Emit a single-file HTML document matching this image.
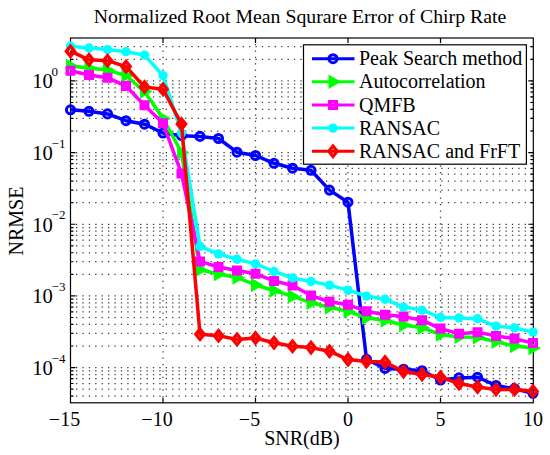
<!DOCTYPE html><html><head><meta charset="utf-8"><style>html,body{margin:0;padding:0;background:#fff;width:550px;height:455px;overflow:hidden}svg{display:block}text{font-family:"Liberation Serif",serif;fill:#000}</style></head><body>
<svg width="550" height="455" viewBox="0 0 550 455">
<path d="M70.5 396.12H533.3M70.5 389.18H533.3M70.5 383.50H533.3M70.5 378.70H533.3M70.5 374.55H533.3M70.5 370.88H533.3M70.5 367.60H533.3M70.5 346.02H533.3M70.5 333.40H533.3M70.5 324.45H533.3M70.5 317.50H533.3M70.5 311.83H533.3M70.5 307.03H533.3M70.5 302.87H533.3M70.5 299.20H533.3M70.5 295.92H533.3M70.5 274.35H533.3M70.5 261.73H533.3M70.5 252.77H533.3M70.5 245.83H533.3M70.5 240.15H533.3M70.5 235.35H533.3M70.5 231.20H533.3M70.5 227.53H533.3M70.5 224.25H533.3M70.5 202.67H533.3M70.5 190.05H533.3M70.5 181.10H533.3M70.5 174.15H533.3M70.5 168.48H533.3M70.5 163.68H533.3M70.5 159.52H533.3M70.5 155.85H533.3M70.5 152.57H533.3M70.5 131.00H533.3M70.5 118.38H533.3M70.5 109.42H533.3M70.5 102.48H533.3M70.5 96.80H533.3M70.5 92.00H533.3M70.5 87.85H533.3M70.5 84.18H533.3M70.5 80.90H533.3M70.5 59.32H533.3M70.5 46.70H533.3" stroke="#383838" stroke-width="1.25" stroke-dasharray="1.25 5.16" stroke-dashoffset="0.9" fill="none"/>
<path d="M163.0 38.0V402.8M255.5 38.0V402.8M348.0 38.0V402.8M440.5 38.0V402.8" stroke="#383838" stroke-width="1.25" stroke-dasharray="1.25 5.15" stroke-dashoffset="0.4" fill="none"/>
<path d="M163.0 402.8V397.8M163.0 38.0V43.0M255.5 402.8V397.8M255.5 38.0V43.0M348.0 402.8V397.8M348.0 38.0V43.0M440.5 402.8V397.8M440.5 38.0V43.0M70.5 396.12H73.5M533.3 396.12H530.3M70.5 389.18H73.5M533.3 389.18H530.3M70.5 383.50H73.5M533.3 383.50H530.3M70.5 378.70H73.5M533.3 378.70H530.3M70.5 374.55H73.5M533.3 374.55H530.3M70.5 370.88H73.5M533.3 370.88H530.3M70.5 367.60H75.5M533.3 367.60H528.3M70.5 346.02H73.5M533.3 346.02H530.3M70.5 333.40H73.5M533.3 333.40H530.3M70.5 324.45H73.5M533.3 324.45H530.3M70.5 317.50H73.5M533.3 317.50H530.3M70.5 311.83H73.5M533.3 311.83H530.3M70.5 307.03H73.5M533.3 307.03H530.3M70.5 302.87H73.5M533.3 302.87H530.3M70.5 299.20H73.5M533.3 299.20H530.3M70.5 295.92H75.5M533.3 295.92H528.3M70.5 274.35H73.5M533.3 274.35H530.3M70.5 261.73H73.5M533.3 261.73H530.3M70.5 252.77H73.5M533.3 252.77H530.3M70.5 245.83H73.5M533.3 245.83H530.3M70.5 240.15H73.5M533.3 240.15H530.3M70.5 235.35H73.5M533.3 235.35H530.3M70.5 231.20H73.5M533.3 231.20H530.3M70.5 227.53H73.5M533.3 227.53H530.3M70.5 224.25H75.5M533.3 224.25H528.3M70.5 202.67H73.5M533.3 202.67H530.3M70.5 190.05H73.5M533.3 190.05H530.3M70.5 181.10H73.5M533.3 181.10H530.3M70.5 174.15H73.5M533.3 174.15H530.3M70.5 168.48H73.5M533.3 168.48H530.3M70.5 163.68H73.5M533.3 163.68H530.3M70.5 159.52H73.5M533.3 159.52H530.3M70.5 155.85H73.5M533.3 155.85H530.3M70.5 152.57H75.5M533.3 152.57H528.3M70.5 131.00H73.5M533.3 131.00H530.3M70.5 118.38H73.5M533.3 118.38H530.3M70.5 109.42H73.5M533.3 109.42H530.3M70.5 102.48H73.5M533.3 102.48H530.3M70.5 96.80H73.5M533.3 96.80H530.3M70.5 92.00H73.5M533.3 92.00H530.3M70.5 87.85H73.5M533.3 87.85H530.3M70.5 84.18H73.5M533.3 84.18H530.3M70.5 80.90H75.5M533.3 80.90H528.3M70.5 59.32H73.5M533.3 59.32H530.3M70.5 46.70H73.5M533.3 46.70H530.3" stroke="#000" stroke-width="1.2" fill="none"/>
<rect x="70.5" y="38.0" width="462.8" height="364.8" fill="none" stroke="#000" stroke-width="1.2"/>
<polyline points="70.5,109.8 89.0,111.3 107.5,113.9 126.0,120.7 144.5,124.2 163.0,133.0 181.5,135.7 200.0,136.4 218.5,138.5 237.0,152.2 255.5,155.5 274.0,163.3 292.5,168.2 311.0,170.3 329.5,190.1 348.0,202.2 366.5,359.3 385.0,368.4 403.5,369.2 422.0,370.7 440.5,380.0 459.0,377.9 477.5,377.2 496.0,385.5 514.5,388.7 533.0,393.3" fill="none" stroke="#0000ff" stroke-width="3.5" stroke-linejoin="round"/>
<circle cx="70.5" cy="109.8" r="4.05" fill="none" stroke="#0000ff" stroke-width="3"/><circle cx="89.0" cy="111.3" r="4.05" fill="none" stroke="#0000ff" stroke-width="3"/><circle cx="107.5" cy="113.9" r="4.05" fill="none" stroke="#0000ff" stroke-width="3"/><circle cx="126.0" cy="120.7" r="4.05" fill="none" stroke="#0000ff" stroke-width="3"/><circle cx="144.5" cy="124.2" r="4.05" fill="none" stroke="#0000ff" stroke-width="3"/><circle cx="163.0" cy="133.0" r="4.05" fill="none" stroke="#0000ff" stroke-width="3"/><circle cx="181.5" cy="135.7" r="4.05" fill="none" stroke="#0000ff" stroke-width="3"/><circle cx="200.0" cy="136.4" r="4.05" fill="none" stroke="#0000ff" stroke-width="3"/><circle cx="218.5" cy="138.5" r="4.05" fill="none" stroke="#0000ff" stroke-width="3"/><circle cx="237.0" cy="152.2" r="4.05" fill="none" stroke="#0000ff" stroke-width="3"/><circle cx="255.5" cy="155.5" r="4.05" fill="none" stroke="#0000ff" stroke-width="3"/><circle cx="274.0" cy="163.3" r="4.05" fill="none" stroke="#0000ff" stroke-width="3"/><circle cx="292.5" cy="168.2" r="4.05" fill="none" stroke="#0000ff" stroke-width="3"/><circle cx="311.0" cy="170.3" r="4.05" fill="none" stroke="#0000ff" stroke-width="3"/><circle cx="329.5" cy="190.1" r="4.05" fill="none" stroke="#0000ff" stroke-width="3"/><circle cx="348.0" cy="202.2" r="4.05" fill="none" stroke="#0000ff" stroke-width="3"/><circle cx="366.5" cy="359.3" r="4.05" fill="none" stroke="#0000ff" stroke-width="3"/><circle cx="385.0" cy="368.4" r="4.05" fill="none" stroke="#0000ff" stroke-width="3"/><circle cx="403.5" cy="369.2" r="4.05" fill="none" stroke="#0000ff" stroke-width="3"/><circle cx="422.0" cy="370.7" r="4.05" fill="none" stroke="#0000ff" stroke-width="3"/><circle cx="440.5" cy="380.0" r="4.05" fill="none" stroke="#0000ff" stroke-width="3"/><circle cx="459.0" cy="377.9" r="4.05" fill="none" stroke="#0000ff" stroke-width="3"/><circle cx="477.5" cy="377.2" r="4.05" fill="none" stroke="#0000ff" stroke-width="3"/><circle cx="496.0" cy="385.5" r="4.05" fill="none" stroke="#0000ff" stroke-width="3"/><circle cx="514.5" cy="388.7" r="4.05" fill="none" stroke="#0000ff" stroke-width="3"/><circle cx="533.0" cy="393.3" r="4.05" fill="none" stroke="#0000ff" stroke-width="3"/>
<polyline points="70.5,66.0 89.0,68.0 107.5,70.1 126.0,75.6 144.5,91.6 163.0,118.5 181.5,152.5 200.0,269.8 218.5,274.0 237.0,277.5 255.5,285.0 274.0,290.5 292.5,296.4 311.0,302.7 329.5,307.3 348.0,311.4 366.5,317.7 385.0,320.5 403.5,325.0 422.0,327.7 440.5,334.5 459.0,336.9 477.5,337.3 496.0,341.8 514.5,346.0 533.0,348.0" fill="none" stroke="#00ff00" stroke-width="3.5" stroke-linejoin="round"/>
<polygon points="66.0,58.8 78.5,66.0 66.0,73.2" fill="#00ff00"/><polygon points="84.5,60.8 97.0,68.0 84.5,75.2" fill="#00ff00"/><polygon points="103.0,62.9 115.5,70.1 103.0,77.3" fill="#00ff00"/><polygon points="121.5,68.4 134.0,75.6 121.5,82.8" fill="#00ff00"/><polygon points="140.0,84.4 152.5,91.6 140.0,98.8" fill="#00ff00"/><polygon points="158.5,111.3 171.0,118.5 158.5,125.7" fill="#00ff00"/><polygon points="177.0,145.3 189.5,152.5 177.0,159.7" fill="#00ff00"/><polygon points="195.5,262.6 208.0,269.8 195.5,277.0" fill="#00ff00"/><polygon points="214.0,266.8 226.5,274.0 214.0,281.2" fill="#00ff00"/><polygon points="232.5,270.3 245.0,277.5 232.5,284.7" fill="#00ff00"/><polygon points="251.0,277.8 263.5,285.0 251.0,292.2" fill="#00ff00"/><polygon points="269.5,283.3 282.0,290.5 269.5,297.7" fill="#00ff00"/><polygon points="288.0,289.2 300.5,296.4 288.0,303.6" fill="#00ff00"/><polygon points="306.5,295.5 319.0,302.7 306.5,309.9" fill="#00ff00"/><polygon points="325.0,300.1 337.5,307.3 325.0,314.5" fill="#00ff00"/><polygon points="343.5,304.2 356.0,311.4 343.5,318.6" fill="#00ff00"/><polygon points="362.0,310.5 374.5,317.7 362.0,324.9" fill="#00ff00"/><polygon points="380.5,313.3 393.0,320.5 380.5,327.7" fill="#00ff00"/><polygon points="399.0,317.8 411.5,325.0 399.0,332.2" fill="#00ff00"/><polygon points="417.5,320.5 430.0,327.7 417.5,334.9" fill="#00ff00"/><polygon points="436.0,327.3 448.5,334.5 436.0,341.7" fill="#00ff00"/><polygon points="454.5,329.7 467.0,336.9 454.5,344.1" fill="#00ff00"/><polygon points="473.0,330.1 485.5,337.3 473.0,344.5" fill="#00ff00"/><polygon points="491.5,334.6 504.0,341.8 491.5,349.0" fill="#00ff00"/><polygon points="510.0,338.8 522.5,346.0 510.0,353.2" fill="#00ff00"/><polygon points="528.5,340.8 541.0,348.0 528.5,355.2" fill="#00ff00"/>
<polyline points="70.5,70.7 89.0,75.0 107.5,77.7 126.0,86.1 144.5,105.2 163.0,123.2 181.5,173.6 200.0,261.4 218.5,267.0 237.0,270.5 255.5,273.8 274.0,280.9 292.5,285.5 311.0,295.5 329.5,301.8 348.0,304.8 366.5,311.2 385.0,314.8 403.5,316.6 422.0,320.2 440.5,328.6 459.0,333.7 477.5,332.2 496.0,335.9 514.5,338.6 533.0,343.1" fill="none" stroke="#ff00ff" stroke-width="3.5" stroke-linejoin="round"/>
<path d="M65.5 65.7h10v10h-10zM69.0 69.1v3.2h3v-3.2z" fill="#ff00ff" fill-rule="evenodd"/><path d="M84.0 70.0h10v10h-10zM87.5 73.4v3.2h3v-3.2z" fill="#ff00ff" fill-rule="evenodd"/><path d="M102.5 72.7h10v10h-10zM106.0 76.1v3.2h3v-3.2z" fill="#ff00ff" fill-rule="evenodd"/><path d="M121.0 81.1h10v10h-10zM124.5 84.5v3.2h3v-3.2z" fill="#ff00ff" fill-rule="evenodd"/><path d="M139.5 100.2h10v10h-10zM143.0 103.6v3.2h3v-3.2z" fill="#ff00ff" fill-rule="evenodd"/><path d="M158.0 118.2h10v10h-10zM161.5 121.6v3.2h3v-3.2z" fill="#ff00ff" fill-rule="evenodd"/><path d="M176.5 168.6h10v10h-10zM180.0 172.0v3.2h3v-3.2z" fill="#ff00ff" fill-rule="evenodd"/><path d="M195.0 256.4h10v10h-10zM198.5 259.8v3.2h3v-3.2z" fill="#ff00ff" fill-rule="evenodd"/><path d="M213.5 262.0h10v10h-10zM217.0 265.4v3.2h3v-3.2z" fill="#ff00ff" fill-rule="evenodd"/><path d="M232.0 265.5h10v10h-10zM235.5 268.9v3.2h3v-3.2z" fill="#ff00ff" fill-rule="evenodd"/><path d="M250.5 268.8h10v10h-10zM254.0 272.2v3.2h3v-3.2z" fill="#ff00ff" fill-rule="evenodd"/><path d="M269.0 275.9h10v10h-10zM272.5 279.3v3.2h3v-3.2z" fill="#ff00ff" fill-rule="evenodd"/><path d="M287.5 280.5h10v10h-10zM291.0 283.9v3.2h3v-3.2z" fill="#ff00ff" fill-rule="evenodd"/><path d="M306.0 290.5h10v10h-10zM309.5 293.9v3.2h3v-3.2z" fill="#ff00ff" fill-rule="evenodd"/><path d="M324.5 296.8h10v10h-10zM328.0 300.2v3.2h3v-3.2z" fill="#ff00ff" fill-rule="evenodd"/><path d="M343.0 299.8h10v10h-10zM346.5 303.2v3.2h3v-3.2z" fill="#ff00ff" fill-rule="evenodd"/><path d="M361.5 306.2h10v10h-10zM365.0 309.6v3.2h3v-3.2z" fill="#ff00ff" fill-rule="evenodd"/><path d="M380.0 309.8h10v10h-10zM383.5 313.2v3.2h3v-3.2z" fill="#ff00ff" fill-rule="evenodd"/><path d="M398.5 311.6h10v10h-10zM402.0 315.0v3.2h3v-3.2z" fill="#ff00ff" fill-rule="evenodd"/><path d="M417.0 315.2h10v10h-10zM420.5 318.6v3.2h3v-3.2z" fill="#ff00ff" fill-rule="evenodd"/><path d="M435.5 323.6h10v10h-10zM439.0 327.0v3.2h3v-3.2z" fill="#ff00ff" fill-rule="evenodd"/><path d="M454.0 328.7h10v10h-10zM457.5 332.1v3.2h3v-3.2z" fill="#ff00ff" fill-rule="evenodd"/><path d="M472.5 327.2h10v10h-10zM476.0 330.6v3.2h3v-3.2z" fill="#ff00ff" fill-rule="evenodd"/><path d="M491.0 330.9h10v10h-10zM494.5 334.3v3.2h3v-3.2z" fill="#ff00ff" fill-rule="evenodd"/><path d="M509.5 333.6h10v10h-10zM513.0 337.0v3.2h3v-3.2z" fill="#ff00ff" fill-rule="evenodd"/><path d="M528.0 338.1h10v10h-10zM531.5 341.5v3.2h3v-3.2z" fill="#ff00ff" fill-rule="evenodd"/>
<polyline points="70.5,46.2 89.0,48.0 107.5,49.6 126.0,51.7 144.5,55.1 163.0,75.6 181.5,133.0 200.0,246.4 218.5,253.9 237.0,259.3 255.5,263.9 274.0,271.5 292.5,277.9 311.0,281.5 329.5,285.1 348.0,290.1 366.5,296.1 385.0,299.2 403.5,307.1 422.0,310.1 440.5,317.5 459.0,317.9 477.5,318.8 496.0,326.1 514.5,327.9 533.0,332.1" fill="none" stroke="#00ffff" stroke-width="3.5" stroke-linejoin="round"/>
<circle cx="70.5" cy="46.2" r="4.7" fill="#00ffff"/><circle cx="89.0" cy="48.0" r="4.7" fill="#00ffff"/><circle cx="107.5" cy="49.6" r="4.7" fill="#00ffff"/><circle cx="126.0" cy="51.7" r="4.7" fill="#00ffff"/><circle cx="144.5" cy="55.1" r="4.7" fill="#00ffff"/><circle cx="163.0" cy="75.6" r="4.7" fill="#00ffff"/><circle cx="181.5" cy="133.0" r="4.7" fill="#00ffff"/><circle cx="200.0" cy="246.4" r="4.7" fill="#00ffff"/><circle cx="218.5" cy="253.9" r="4.7" fill="#00ffff"/><circle cx="237.0" cy="259.3" r="4.7" fill="#00ffff"/><circle cx="255.5" cy="263.9" r="4.7" fill="#00ffff"/><circle cx="274.0" cy="271.5" r="4.7" fill="#00ffff"/><circle cx="292.5" cy="277.9" r="4.7" fill="#00ffff"/><circle cx="311.0" cy="281.5" r="4.7" fill="#00ffff"/><circle cx="329.5" cy="285.1" r="4.7" fill="#00ffff"/><circle cx="348.0" cy="290.1" r="4.7" fill="#00ffff"/><circle cx="366.5" cy="296.1" r="4.7" fill="#00ffff"/><circle cx="385.0" cy="299.2" r="4.7" fill="#00ffff"/><circle cx="403.5" cy="307.1" r="4.7" fill="#00ffff"/><circle cx="422.0" cy="310.1" r="4.7" fill="#00ffff"/><circle cx="440.5" cy="317.5" r="4.7" fill="#00ffff"/><circle cx="459.0" cy="317.9" r="4.7" fill="#00ffff"/><circle cx="477.5" cy="318.8" r="4.7" fill="#00ffff"/><circle cx="496.0" cy="326.1" r="4.7" fill="#00ffff"/><circle cx="514.5" cy="327.9" r="4.7" fill="#00ffff"/><circle cx="533.0" cy="332.1" r="4.7" fill="#00ffff"/>
<polyline points="70.5,51.2 89.0,59.8 107.5,60.7 126.0,66.6 144.5,87.0 163.0,89.3 181.5,124.1 200.0,334.2 218.5,335.8 237.0,339.4 255.5,338.0 274.0,342.8 292.5,346.2 311.0,347.6 329.5,351.2 348.0,359.6 366.5,361.4 385.0,362.1 403.5,371.5 422.0,374.4 440.5,377.2 459.0,383.5 477.5,387.0 496.0,389.5 514.5,389.5 533.0,391.2" fill="none" stroke="#ff0000" stroke-width="3.5" stroke-linejoin="round"/>
<path d="M70.5 43.4l6.3 7.8l-6.3 7.8l-6.3 -7.8zM70.5 48.6l1.8 2.6l-1.8 2.6l-1.8 -2.6z" fill="#ff0000" fill-rule="evenodd"/><path d="M89.0 52.0l6.3 7.8l-6.3 7.8l-6.3 -7.8zM89.0 57.2l1.8 2.6l-1.8 2.6l-1.8 -2.6z" fill="#ff0000" fill-rule="evenodd"/><path d="M107.5 52.9l6.3 7.8l-6.3 7.8l-6.3 -7.8zM107.5 58.1l1.8 2.6l-1.8 2.6l-1.8 -2.6z" fill="#ff0000" fill-rule="evenodd"/><path d="M126.0 58.8l6.3 7.8l-6.3 7.8l-6.3 -7.8zM126.0 64.0l1.8 2.6l-1.8 2.6l-1.8 -2.6z" fill="#ff0000" fill-rule="evenodd"/><path d="M144.5 79.2l6.3 7.8l-6.3 7.8l-6.3 -7.8zM144.5 84.4l1.8 2.6l-1.8 2.6l-1.8 -2.6z" fill="#ff0000" fill-rule="evenodd"/><path d="M163.0 81.5l6.3 7.8l-6.3 7.8l-6.3 -7.8zM163.0 86.7l1.8 2.6l-1.8 2.6l-1.8 -2.6z" fill="#ff0000" fill-rule="evenodd"/><path d="M181.5 116.3l6.3 7.8l-6.3 7.8l-6.3 -7.8zM181.5 121.5l1.8 2.6l-1.8 2.6l-1.8 -2.6z" fill="#ff0000" fill-rule="evenodd"/><path d="M200.0 326.4l6.3 7.8l-6.3 7.8l-6.3 -7.8zM200.0 331.6l1.8 2.6l-1.8 2.6l-1.8 -2.6z" fill="#ff0000" fill-rule="evenodd"/><path d="M218.5 328.0l6.3 7.8l-6.3 7.8l-6.3 -7.8zM218.5 333.2l1.8 2.6l-1.8 2.6l-1.8 -2.6z" fill="#ff0000" fill-rule="evenodd"/><path d="M237.0 331.6l6.3 7.8l-6.3 7.8l-6.3 -7.8zM237.0 336.8l1.8 2.6l-1.8 2.6l-1.8 -2.6z" fill="#ff0000" fill-rule="evenodd"/><path d="M255.5 330.2l6.3 7.8l-6.3 7.8l-6.3 -7.8zM255.5 335.4l1.8 2.6l-1.8 2.6l-1.8 -2.6z" fill="#ff0000" fill-rule="evenodd"/><path d="M274.0 335.0l6.3 7.8l-6.3 7.8l-6.3 -7.8zM274.0 340.2l1.8 2.6l-1.8 2.6l-1.8 -2.6z" fill="#ff0000" fill-rule="evenodd"/><path d="M292.5 338.4l6.3 7.8l-6.3 7.8l-6.3 -7.8zM292.5 343.6l1.8 2.6l-1.8 2.6l-1.8 -2.6z" fill="#ff0000" fill-rule="evenodd"/><path d="M311.0 339.8l6.3 7.8l-6.3 7.8l-6.3 -7.8zM311.0 345.0l1.8 2.6l-1.8 2.6l-1.8 -2.6z" fill="#ff0000" fill-rule="evenodd"/><path d="M329.5 343.4l6.3 7.8l-6.3 7.8l-6.3 -7.8zM329.5 348.6l1.8 2.6l-1.8 2.6l-1.8 -2.6z" fill="#ff0000" fill-rule="evenodd"/><path d="M348.0 351.8l6.3 7.8l-6.3 7.8l-6.3 -7.8zM348.0 357.0l1.8 2.6l-1.8 2.6l-1.8 -2.6z" fill="#ff0000" fill-rule="evenodd"/><path d="M366.5 353.6l6.3 7.8l-6.3 7.8l-6.3 -7.8zM366.5 358.8l1.8 2.6l-1.8 2.6l-1.8 -2.6z" fill="#ff0000" fill-rule="evenodd"/><path d="M385.0 354.3l6.3 7.8l-6.3 7.8l-6.3 -7.8zM385.0 359.5l1.8 2.6l-1.8 2.6l-1.8 -2.6z" fill="#ff0000" fill-rule="evenodd"/><path d="M403.5 363.7l6.3 7.8l-6.3 7.8l-6.3 -7.8zM403.5 368.9l1.8 2.6l-1.8 2.6l-1.8 -2.6z" fill="#ff0000" fill-rule="evenodd"/><path d="M422.0 366.6l6.3 7.8l-6.3 7.8l-6.3 -7.8zM422.0 371.8l1.8 2.6l-1.8 2.6l-1.8 -2.6z" fill="#ff0000" fill-rule="evenodd"/><path d="M440.5 369.4l6.3 7.8l-6.3 7.8l-6.3 -7.8zM440.5 374.6l1.8 2.6l-1.8 2.6l-1.8 -2.6z" fill="#ff0000" fill-rule="evenodd"/><path d="M459.0 375.7l6.3 7.8l-6.3 7.8l-6.3 -7.8zM459.0 380.9l1.8 2.6l-1.8 2.6l-1.8 -2.6z" fill="#ff0000" fill-rule="evenodd"/><path d="M477.5 379.2l6.3 7.8l-6.3 7.8l-6.3 -7.8zM477.5 384.4l1.8 2.6l-1.8 2.6l-1.8 -2.6z" fill="#ff0000" fill-rule="evenodd"/><path d="M496.0 381.7l6.3 7.8l-6.3 7.8l-6.3 -7.8zM496.0 386.9l1.8 2.6l-1.8 2.6l-1.8 -2.6z" fill="#ff0000" fill-rule="evenodd"/><path d="M514.5 381.7l6.3 7.8l-6.3 7.8l-6.3 -7.8zM514.5 386.9l1.8 2.6l-1.8 2.6l-1.8 -2.6z" fill="#ff0000" fill-rule="evenodd"/><path d="M533.0 383.4l6.3 7.8l-6.3 7.8l-6.3 -7.8zM533.0 388.6l1.8 2.6l-1.8 2.6l-1.8 -2.6z" fill="#ff0000" fill-rule="evenodd"/>
<rect x="303.5" y="44.8" width="222.9" height="119.4" fill="#fff" stroke="#000" stroke-width="1.2"/>
<path d="M312 58.7H354.5" stroke="#0000ff" stroke-width="3"/>
<circle cx="333.0" cy="58.7" r="4.05" fill="none" stroke="#0000ff" stroke-width="3"/>
<text x="359" y="65.2" font-size="20">Peak Search method</text>
<path d="M312 81.8H354.5" stroke="#00ff00" stroke-width="3"/>
<polygon points="328.5,74.6 341.0,81.8 328.5,89.0" fill="#00ff00"/>
<text x="359" y="88.3" font-size="20">Autocorrelation</text>
<path d="M312 105.0H354.5" stroke="#ff00ff" stroke-width="3"/>
<path d="M328.0 100.0h10v10h-10zM331.5 103.4v3.2h3v-3.2z" fill="#ff00ff" fill-rule="evenodd"/>
<text x="359" y="111.5" font-size="20">QMFB</text>
<path d="M312 128.1H354.5" stroke="#00ffff" stroke-width="3"/>
<circle cx="333.0" cy="128.1" r="4.7" fill="#00ffff"/>
<text x="359" y="134.6" font-size="20">RANSAC</text>
<path d="M312 151.3H354.5" stroke="#ff0000" stroke-width="3"/>
<path d="M333.0 143.5l6.3 7.8l-6.3 7.8l-6.3 -7.8zM333.0 148.7l1.8 2.6l-1.8 2.6l-1.8 -2.6z" fill="#ff0000" fill-rule="evenodd"/>
<text x="359" y="157.8" font-size="20">RANSAC and FrFT</text>
<text x="300" y="22.5" font-size="19.8" text-anchor="middle">Normalized Root Mean Squrare Error of Chirp Rate</text>
<text x="302" y="445" font-size="20" text-anchor="middle">SNR(dB)</text>
<text transform="translate(23,221) rotate(-90)" font-size="20" text-anchor="middle">NRMSE</text>
<text x="64.5" y="426" font-size="20" text-anchor="middle">−15</text>
<text x="157.0" y="426" font-size="20" text-anchor="middle">−10</text>
<text x="249.5" y="426" font-size="20" text-anchor="middle">−5</text>
<text x="348.0" y="426" font-size="20" text-anchor="middle">0</text>
<text x="440.5" y="426" font-size="20" text-anchor="middle">5</text>
<text x="533.0" y="426" font-size="20" text-anchor="middle">10</text>
<text x="32.3" y="88.2" font-size="20.6">10</text>
<text x="51.6" y="75.9" font-size="13">0</text>
<text x="32.3" y="159.9" font-size="20.6">10</text>
<text x="51.6" y="147.6" font-size="13">−1</text>
<text x="32.3" y="231.6" font-size="20.6">10</text>
<text x="51.6" y="219.2" font-size="13">−2</text>
<text x="32.3" y="303.2" font-size="20.6">10</text>
<text x="51.6" y="290.9" font-size="13">−3</text>
<text x="32.3" y="374.9" font-size="20.6">10</text>
<text x="51.6" y="362.6" font-size="13">−4</text>
</svg></body></html>
